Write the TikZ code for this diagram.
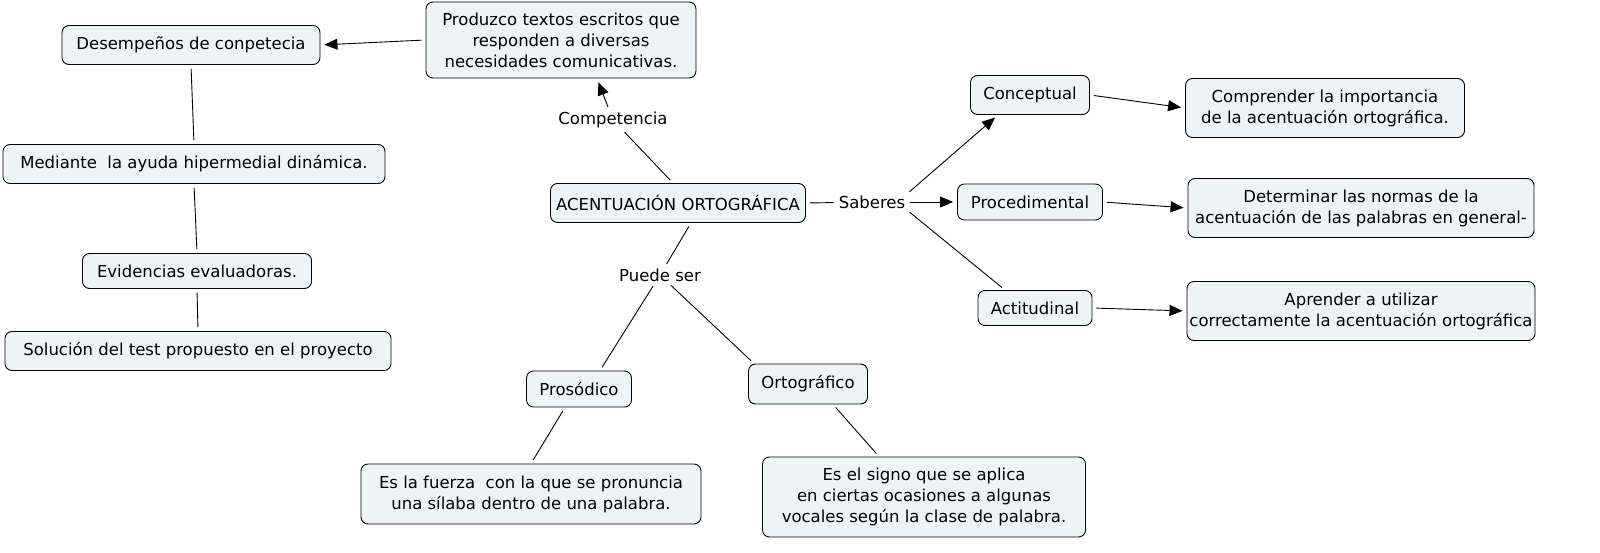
\documentclass[tikz,border=0pt]{standalone}
\usepackage{fontspec}
\setmainfont{DejaVu Sans}
\usetikzlibrary{arrows.meta,calc}
\begin{document}
\begin{tikzpicture}[x=1pt,y=-1pt,
  box/.style={draw=black,fill={rgb,255:red,238;green,244;blue,245},rounded corners=7pt,line width=0.9pt,align=center,inner sep=0pt,font=\fontsize{16.5}{21}\selectfont},
  lab/.style={fill=white,inner sep=1pt,font=\fontsize{16.5}{21}\selectfont},
  ln/.style={line width=0.9pt,shorten >=4pt,shorten <=4pt},
  ar/.style={ln,-{Triangle[length=13pt,width=11pt]}}]
\useasboundingbox (0,0) rectangle (1600,553);
\node[box,minimum width=258pt,minimum height=39pt] (des) at (191,45) {Desempeños de conpetecia};
\node[box,minimum width=270pt,minimum height=76pt] (pro) at (561,40) {Produzco textos escritos que\\ responden a diversas\\ necesidades comunicativas.};
\node[box,minimum width=382pt,minimum height=39pt] (med) at (194,164) {Mediante\ \ la ayuda hipermedial dinámica.};
\node[box,minimum width=229pt,minimum height=35pt] (evi) at (197,271) {Evidencias evaluadoras.};
\node[box,minimum width=386pt,minimum height=39pt] (sol) at (198,351) {Solución del test propuesto en el proyecto};
\node[box,minimum width=255pt,minimum height=39pt] (ace) at (678,203) {ACENTUACIÓN ORTOGRÁFICA};
\node[box,minimum width=119pt,minimum height=39pt] (con) at (1030,95) {Conceptual};
\node[box,minimum width=145pt,minimum height=36pt] (prc) at (1030,202) {Procedimental};
\node[box,minimum width=114pt,minimum height=35pt] (act) at (1035,308) {Actitudinal};
\node[box,minimum width=279pt,minimum height=59pt] (com) at (1325,108) {Comprender la importancia\\ de la acentuación ortográfica.};
\node[box,minimum width=346pt,minimum height=59pt] (det) at (1361,208) {Determinar las normas de la\\ acentuación de las palabras en general-};
\node[box,minimum width=348pt,minimum height=59pt] (apr) at (1361,311) {Aprender a utilizar\\ correctamente la acentuación ortográfica};
\node[box,minimum width=105pt,minimum height=36pt] (prs) at (579,389) {Prosódico};
\node[box,minimum width=119pt,minimum height=40pt] (ort) at (808,384) {Ortográfico};
\node[box,minimum width=340pt,minimum height=60pt] (fue) at (531,494) {Es la fuerza\ \ con la que se pronuncia\\ una sílaba dentro de una palabra.};
\node[box,minimum width=323pt,minimum height=80pt] (sig) at (924,497) {Es el signo que se aplica\\ en ciertas ocasiones a algunas\\ vocales según la clase de palabra.};
\node[lab] (cmp) at (613,120) {Competencia};
\node[lab] (sab) at (872,202) {Saberes};
\node[lab] (pue) at (660,275) {Puede ser};
\draw[ln] ($(ace.north)+(-5,0)$) -- (cmp);
\draw[ar] (cmp) -- ($(pro.south)+(36,0)$);
\draw[ar] (pro.west) -- (des.east);
\draw[ln] (des.south) -- (med.north);
\draw[ln] (med.south) -- (evi.north);
\draw[ln] (evi.south) -- (sol.north);
\draw[ln] (ace.east) -- (sab);
\draw[ar] (sab) -- (prc.west);
\draw[ar] (sab.north east) -- ($(con.south)+(-32,0)$);
\draw[ln] (sab.south east) -- ($(act.north)+(-30,0)$);
\draw[ar] (con.east) -- (com.west);
\draw[ar] (prc.east) -- (det.west);
\draw[ar] (act.east) -- (apr.west);
\draw[ln] ($(ace.south)+(13,0)$) -- (pue);
\draw[ln] (pue) -- ($(prs.north)+(21,0)$);
\draw[ln] (pue) -- ($(ort.north)+(-54,0)$);
\draw[ln] ($(prs.south)+(-14,0)$) -- (fue.north);
\draw[ln] ($(ort.south)+(25,0)$) -- ($(sig.north)+(-45,0)$);
\end{tikzpicture}
\end{document}
